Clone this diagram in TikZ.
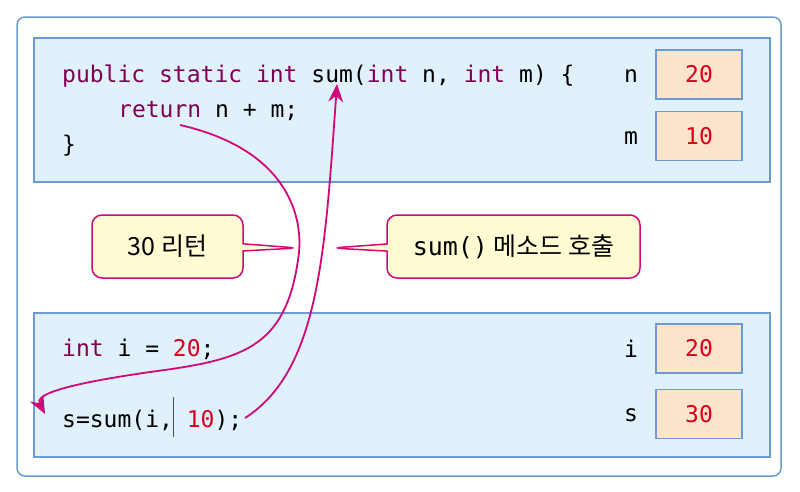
\documentclass[tikz,border=0pt]{standalone}
\usepackage{fontspec}
\setmonofont{DejaVu Sans Mono}
\newfontfamily\kr{Noto Sans CJK KR}
\usetikzlibrary{shapes.callouts,arrows.meta}
\definecolor{pbg}{HTML}{E0F1FC}
\definecolor{pbd}{HTML}{6C9BD2}
\definecolor{vbg}{HTML}{FDE4CC}
\definecolor{kw}{HTML}{7F0055}
\definecolor{num}{HTML}{D8001A}
\definecolor{mag}{HTML}{D0087A}
\definecolor{cbg}{HTML}{FFFCD4}
\newcommand{\kwd}[1]{{\color{kw}#1}}
\newcommand{\nm}[1]{{\color{num}#1}}
\tikzset{
 panel/.style={draw=pbd,fill=pbg,line width=1.5pt},
 vbox/.style={draw=pbd,fill=vbg,line width=1.5pt,minimum width=86pt,minimum height=49pt,font=\fontsize{23}{26}\ttfamily\color{num}},
 code/.style={anchor=base west,font=\fontsize{23}{26}\ttfamily,inner sep=0},
 vlab/.style={anchor=base,font=\fontsize{23}{26}\ttfamily,inner sep=0},
 call/.style={rectangle callout,rounded corners=10pt,draw=mag,fill=cbg,line width=1.5pt,font=\fontsize{25}{27}\kr,minimum height=63pt},
 arr/.style={draw=mag,line width=1.8pt,-{Stealth[length=18pt,width=15pt]}}
}
\begin{document}
\begin{tikzpicture}[x=1pt,y=-1pt]
\useasboundingbox (0,0) rectangle (800,491);
\draw[pbd,line width=1.5pt,rounded corners=8pt] (17,17) rectangle (781,476);
\draw[panel] (34,38) rectangle (770,182);
\draw[panel] (34,313) rectangle (770,457);
\node[code] (l1) at (62,82) {\kwd{public static int} sum(\kwd{int} n, \kwd{int} m) \{};
\node[code] (l2) at (118,117) {\kwd{return} n + m;};
\node[code] (l3) at (62,152) {\}};
\node[code] (l4) at (62,356) {\kwd{int} i = \nm{20};};
\node[code] (l5) at (62,427) {s=sum(i, \nm{10});};
\draw[black!70,line width=0.8pt] (173,397) -- (173,437);
\node[vlab] (ln) at (631,82) {n};
\node[vlab] (lm) at (631,144) {m};
\node[vlab] (li) at (631,357) {i};
\node[vlab] (ls) at (631,421) {s};
\node[vbox] (vn) at (699,74.5) {20};
\node[vbox] (vm) at (699,136) {10};
\node[vbox] (vi) at (699,348.5) {20};
\node[vbox] (vs) at (699,414) {30};
\coordinate (t1) at (298,248);
\coordinate (t2) at (332,248);
\node[call,minimum width=151pt,callout absolute pointer=(t1)] (c1) at (167.5,246.5) {30 리턴};
\node[call,minimum width=253pt,callout absolute pointer=(t2)] (c2) at (513.5,246.5) {\ttfamily sum()\kr\ 메소드 호출};
\coordinate (rs) at (180,125);
\coordinate (re) at (45,414);
\coordinate (cs) at (245,418);
\coordinate (ce) at (337,84);
\draw[arr] (rs) .. controls (290,150) and (305,220) .. (298,260) .. controls (285,350) and (240,360) .. (150,372) .. controls (60,385) and (35,395) .. (re);
\draw[arr] (cs) .. controls (320,370) and (325,250) .. (ce);
\end{tikzpicture}
\end{document}
